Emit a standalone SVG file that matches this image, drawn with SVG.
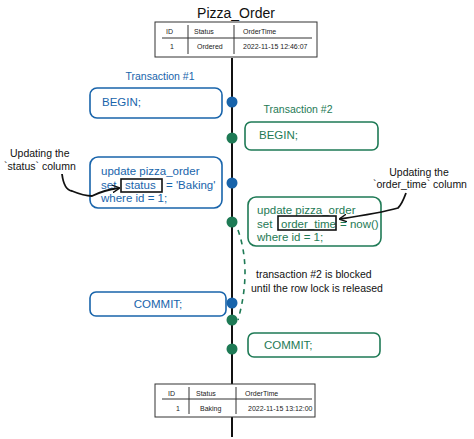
<svg xmlns="http://www.w3.org/2000/svg" width="474" height="439" viewBox="0 0 474 439">
<style>
text{font-family:"Liberation Sans","DejaVu Sans",sans-serif}
.tbl{fill:#fff;stroke:#333;stroke-width:1}
.tl{stroke:#333;stroke-width:1}
.tt{font-size:7px;fill:#222}
.blue{fill:#fff;stroke:#1864ab;stroke-width:1.6}
.green{fill:#fff;stroke:#1e7a55;stroke-width:1.6}
.bt{fill:#1864ab;font-size:11.5px}
.gt{fill:#1e7a55;font-size:11.5px}
.bd{fill:#1864ab}
.gd{fill:#1e7a55}
.note{fill:#111;font-size:10.5px}
.hl{fill:none;stroke:#111;stroke-width:1.6}
</style>
<defs>
<marker id="ah" markerWidth="8" markerHeight="8" refX="7" refY="4" orient="auto" markerUnits="userSpaceOnUse">
<path d="M0,0 L8,4 L0,8" fill="none" stroke="#111" stroke-width="1.4"/>
</marker>
</defs>
<rect width="474" height="439" fill="#fff"/>
<g id="timeline"><line x1="232" y1="58" x2="232" y2="437" stroke="#111" stroke-width="2"/></g>

<g id="table-top">
<text x="236" y="18" text-anchor="middle" font-size="14" fill="#111">Pizza_Order</text>
<rect class="tbl" x="155" y="22" width="162" height="35"/>
<line class="tl" x1="162" y1="38" x2="312" y2="38"/>
<line class="tl" x1="188" y1="25" x2="188" y2="54"/>
<line class="tl" x1="234" y1="25" x2="234" y2="54"/>
<text class="tt" x="166" y="34">ID</text>
<text class="tt" x="194" y="34">Status</text>
<text class="tt" x="243" y="34">OrderTime</text>
<text class="tt" x="170" y="49">1</text>
<text class="tt" x="197" y="49">Ordered</text>
<text class="tt" x="243" y="49">2022-11-15 12:46:07</text>
</g>

<g id="t1-begin">
<text x="160" y="80" text-anchor="middle" font-size="10.5" fill="#1864ab">Transaction #1</text>
<rect class="blue" x="90" y="88" width="132" height="30" rx="7"/>
<text class="bt" x="102" y="106">BEGIN;</text>
<circle class="bd" cx="232" cy="102" r="5.5"/>
</g>

<g id="t2-begin">
<text x="298" y="113" text-anchor="middle" font-size="10.5" fill="#1e7a55">Transaction #2</text>
<rect class="green" x="245" y="122" width="133" height="28" rx="6"/>
<text class="gt" x="259" y="139">BEGIN;</text>
<circle class="gd" cx="232" cy="138" r="5.5"/>
</g>

<g id="t1-update">
<rect class="blue" x="90" y="157" width="132" height="51" rx="8"/>
<text class="bt" x="101" y="175">update pizza_order</text>
<text class="bt" y="189"><tspan x="101">set</tspan><tspan x="125">status</tspan><tspan x="166">= 'Baking'</tspan></text>
<text class="bt" x="101" y="202">where id = 1;</text>
<rect class="hl" x="121" y="179" width="41" height="13"/>
<circle class="bd" cx="232" cy="183" r="5.5"/>
</g>

<g id="note-status">
<text class="note" x="10" y="157">Updating the</text>
<text class="note" x="4" y="170">`status` column</text>
</g>

<g id="t2-update">
<rect class="green" x="248" y="197" width="133" height="49" rx="8"/>
<text class="gt" x="257" y="214">update pizza_order</text>
<text class="gt" y="228"><tspan x="257">set</tspan><tspan x="281">order_time</tspan><tspan x="340">= now()</tspan></text>
<text class="gt" x="257" y="241">where id = 1;</text>
<rect class="hl" x="278" y="216" width="58" height="14"/>
<circle class="gd" cx="232" cy="222" r="5.5"/>
</g>

<g id="note-order-time">
<text class="note" x="419" y="176" text-anchor="middle">Updating the</text>
<text class="note" x="420" y="188" text-anchor="middle">`order_time` column</text>
</g>

<g id="note-blocked">
<text class="note" x="256" y="278">transaction #2 is blocked</text>
<text class="note" x="251" y="292">until the row lock is released</text>
</g>

<g id="t1-commit">
<rect class="blue" x="90" y="292" width="136" height="24" rx="6"/>
<text class="bt" x="158" y="308" text-anchor="middle">COMMIT;</text>
<circle class="bd" cx="232" cy="303" r="5.5"/>
</g>

<g id="t2-commit">
<circle class="gd" cx="232" cy="320" r="5.5"/>
<rect class="green" x="248" y="333" width="132" height="24" rx="6"/>
<text class="gt" x="264" y="349">COMMIT;</text>
<circle class="gd" cx="232" cy="349" r="5.5"/>
</g>

<g id="table-bottom">
<rect class="tbl" x="155" y="384" width="160" height="33"/>
<line class="tl" x1="162" y1="399" x2="312" y2="399"/>
<line class="tl" x1="189" y1="387" x2="189" y2="414"/>
<line class="tl" x1="236" y1="387" x2="236" y2="414"/>
<text class="tt" x="168" y="396">ID</text>
<text class="tt" x="196" y="396">Status</text>
<text class="tt" x="245" y="396">OrderTime</text>
<text class="tt" x="176" y="411">1</text>
<text class="tt" x="200" y="411">Baking</text>
<text class="tt" x="248" y="411">2022-11-15 13:12:00</text>
</g>

<g id="connectors" fill="none">
<path d="M62,174 Q64,190 72,191 Q84,196 92,196 Q104,190 119,188" stroke="#111" stroke-width="1.8" marker-end="url(#ah)"/>
<path d="M406,193 Q402,204 398,208 Q380,213 340,219" stroke="#111" stroke-width="1.8" marker-end="url(#ah)"/>
<path d="M238,230 Q252,270 238,320" stroke="#1e7a55" stroke-width="1.6" stroke-dasharray="5,5"/>
</g>
</svg>
